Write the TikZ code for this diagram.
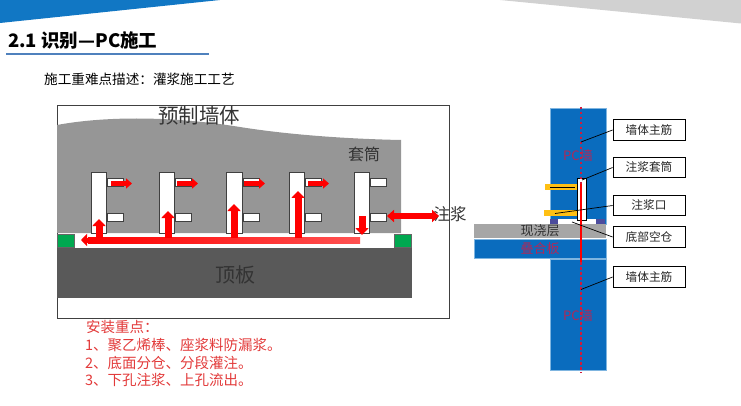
\documentclass[tikz,border=0pt]{standalone}
\usepackage{fontspec}
\setmainfont{Noto Sans CJK SC}
\usetikzlibrary{arrows.meta,positioning}
\definecolor{bandblue}{HTML}{1177C4}
\definecolor{wallblue}{HTML}{0A6CBE}
\definecolor{walledge}{HTML}{7FB5E0}
\definecolor{wallgray}{HTML}{969696}
\definecolor{slabgray}{HTML}{595959}
\definecolor{padgreen}{HTML}{00A850}
\definecolor{barorange}{HTML}{FFC014}
\definecolor{tagred}{HTML}{B02858}
\definecolor{dotred}{HTML}{D01C3C}
\definecolor{notered}{HTML}{E23A3A}
\begin{document}
\begin{tikzpicture}[x=1pt,y=-1pt,
				sleeve/.style={draw=black!75,fill=white,line width=0.8pt,minimum width=15.5pt,minimum height=61pt,inner sep=0pt},
				stub/.style={draw=black!75,fill=white,line width=0.8pt,minimum width=16pt,minimum height=8pt,inner sep=0pt},
				flow/.style={red,line width=7pt,-{Triangle[width=13pt,length=7pt]}},
				flowside/.style={red,line width=5pt,-{Triangle[width=10pt,length=6pt]}},
				pad/.style={draw=black!60,fill=padgreen,line width=0.4pt,minimum width=17pt,minimum height=13pt,inner sep=0pt},
				bluepart/.style={fill=wallblue,draw=walledge,line width=0.5pt},
				tagbox/.style={draw=black,fill=white,line width=0.8pt,minimum width=72pt,minimum height=20.5pt,inner sep=0pt,font=\fontsize{11.7}{13}\selectfont,text=black!85},
				leader/.style={black,line width=0.7pt},
				bigtext/.style={text=black!80,inner sep=0pt},
				walltext/.style={inner sep=0pt,text=tagred,font=\fontsize{13}{15}\selectfont},
				notetext/.style={text=notered,anchor=west,inner sep=0pt,font=\fontsize{14.5}{16}\selectfont}]
	\useasboundingbox (0,0) rectangle (741,406);
	\fill[bandblue] (0,0) -- (220,0) -- (0,23) -- cycle;
	\fill[black!18] (500,0) -- (741,0) -- (741,23.5) -- cycle;
	\node[anchor=west,inner sep=0pt,font=\fontsize{18.5}{20}\selectfont\bfseries] (title) at (8,40) {2.1 识别—PC施工};
	\draw[color={rgb,255:red,79;green,129;blue,189},line width=2pt] (6,54.5) -- (209,54.5);
	\node[anchor=west,inner sep=0pt,font=\fontsize{13.6}{15}\selectfont] (subtitle) at (44,79) {施工重难点描述：灌浆施工工艺};

	\draw[black!75,line width=0.9pt] (57,105) rectangle (449,318);
	\fill[wallgray] (57,125) .. controls (100,117) and (165,115) .. (240,127)
		.. controls (290,135) and (350,139) .. (401,140) -- (401,233) -- (57,233) -- cycle;
	\fill[slabgray] (57,248) rectangle (412,298);
	\node[pad] (padl) at (65.5,240.5) {};
	\node[pad] (padr) at (402.5,240.5) {};
	\foreach \i/\x in {1/98.8,2/167,3/234.5,4/297,5/362}{
		\node[sleeve] (s\i) at (\x,202.5) {};
		\node[stub,anchor=north west] (ta\i) at ([yshift=-6pt]s\i.north east) {};
		\node[stub,anchor=north west] (tb\i) at ([yshift=-41pt]s\i.north east) {};
	}
	\node[bigtext,font=\fontsize{20.5}{22}\selectfont] (wall) at (199,116) {预制墙体};
	\node[bigtext,font=\fontsize{16}{18}\selectfont] (tao) at (364,154) {套筒};
	\node[bigtext,font=\fontsize{16.5}{18}\selectfont] (zhu) at (450,214) {注浆};
	\node[bigtext,font=\fontsize{20}{22}\selectfont] (ding) at (235,275) {顶板};

	\node[inner sep=0pt,minimum width=272pt,minimum height=6pt,left color=red,middle color=red,right color=red!68!white] (channel) at (224,240) {};
	\coordinate (chtip) at (81,240);
	\draw[flowside,-{Triangle[width=12pt,length=6pt]}] (channel.west) -- (chtip);
	\foreach \i/\x/\y in {1/99/219,2/168/211,3/234/204,4/298/191}{
		\coordinate (ua\i) at (\x,238);
		\coordinate (ub\i) at (\x,\y);
		\draw[flow] (ua\i) -- (ub\i);
	}
	\foreach \i/\x in {1/111,2/177,3/244,4/308}{
		\coordinate (ra\i) at (\x,183.5);
		\coordinate (rb\i) at (\x+21,183.5);
		\draw[flowside] (ra\i) -- (rb\i);
	}
	\coordinate (da) at (362,216);
	\coordinate (db) at (362,235);
	\draw[flow] (da) -- (db);
	\coordinate (ia) at (387,216);
	\coordinate (ib) at (439,216);
	\draw[flowside,line width=6pt,{Triangle[width=12pt,length=7pt]}-{Triangle[width=12pt,length=7pt]}] (ia) -- (ib);

	\node[notetext] (n0) at (86,327) {安装重点：};
	\node[notetext] (n1) at (85,345) {1、聚乙烯棒、座浆料防漏浆。};
	\node[notetext] (n2) at (85,362.5) {2、底面分仓、分段灌注。};
	\node[notetext] (n3) at (85,380) {3、下孔注浆、上孔流出。};

	\filldraw[bluepart] (550,108) rectangle (606,224);
	\fill[black!35] (474,224) rectangle (606,238);
	\filldraw[bluepart] (474,239) rectangle (606,258.5);
	\filldraw[bluepart] (550,259) rectangle (606,370);
	\fill[white] (558,219) rectangle (596,224);
	\fill[blue!45!black!70!white] (550,219) rectangle (558,224);
	\fill[blue!45!black!70!white] (596,219) rectangle (605,224);
	\fill[barorange] (545,184) rectangle (578,190);
	\fill[barorange] (544,210) rectangle (578,215.5);
	\draw[black,line width=0.6pt] (550,187) -- (575,187);
	\node[draw=black,fill=white,line width=0.8pt,minimum width=9pt,minimum height=42pt,inner sep=0pt] (tube) at (581.5,199) {};
	\node[walltext] (pca) at (578,156) {PC墙};
	\node[walltext] (pcb) at (578,316) {PC墙};
	\node[inner sep=0pt,text=black!80,font=\fontsize{13}{15}\selectfont] (xian) at (540,231) {现浇层};
	\node[walltext] (die) at (540,249) {叠合板};
	\draw[dotred,line width=2pt,dash pattern=on 2.5pt off 2.5pt] (581,107) -- (581,373);
	\draw[red,line width=2.2pt] (581,184) -- (581,262);

	\node[tagbox] (b1) at (649,130) {墙体主筋};
	\node[tagbox] (b2) at (649,167.5) {注浆套筒};
	\node[tagbox] (b3) at (649,205.5) {注浆口};
	\node[tagbox] (b4) at (649,237) {底部空仓};
	\node[tagbox] (b5) at (649,277) {墙体主筋};
	\coordinate (e1) at (581,142);
	\coordinate (e2) at (582,180);
	\coordinate (e3) at (555,213.5);
	\coordinate (e4) at (572,222);
	\coordinate (e5) at (581,289.5);
	\foreach \i in {1,...,5}{
		\draw[leader] (b\i.west) -- (e\i);
	}
\end{tikzpicture}
\end{document}
